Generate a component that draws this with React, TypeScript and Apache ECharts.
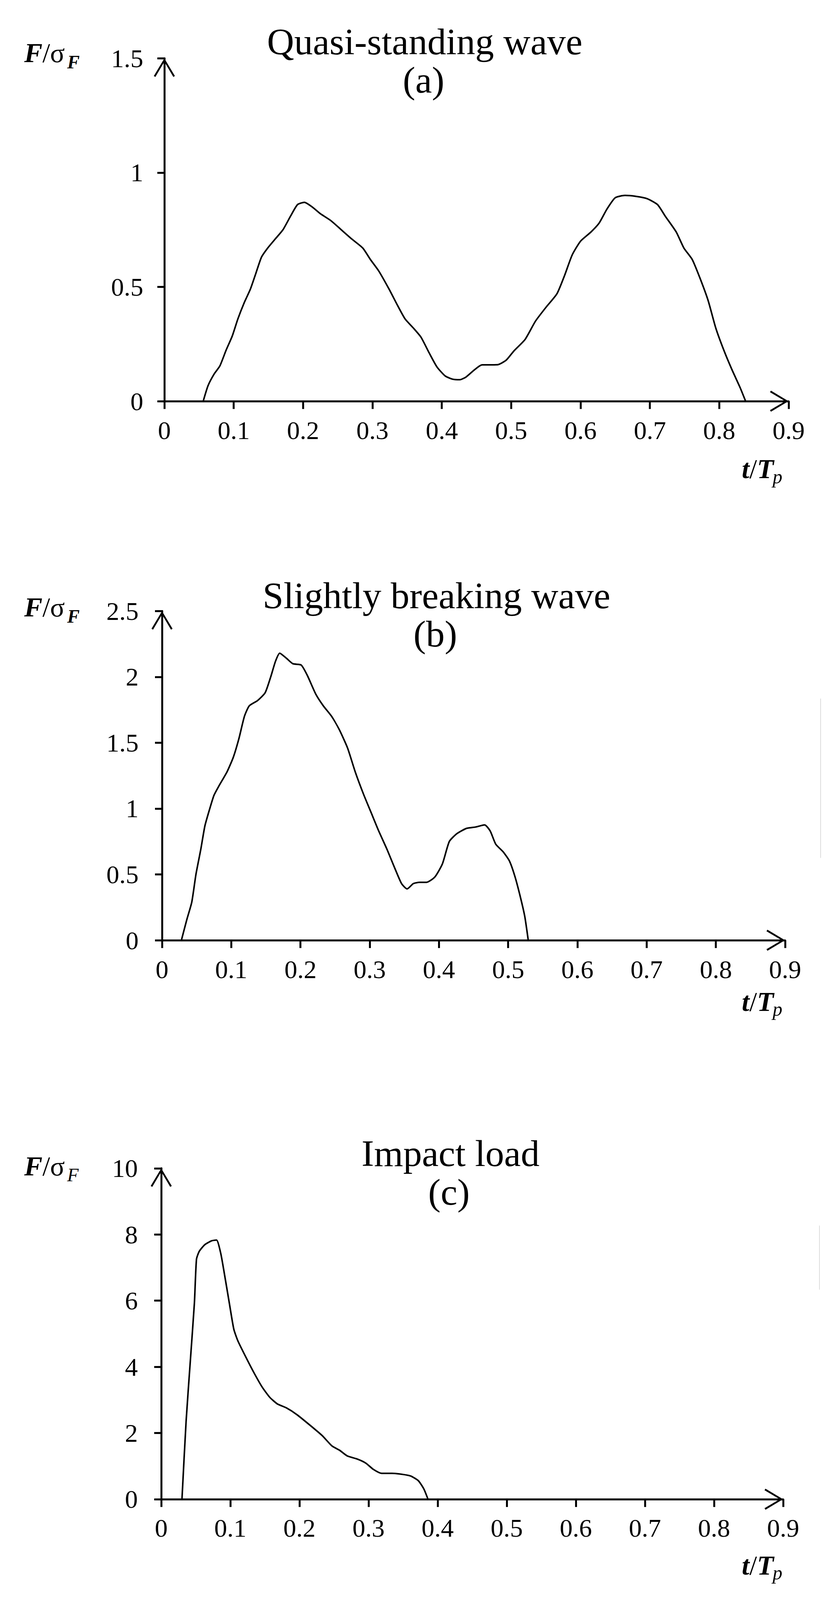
import React, { useEffect, useRef, useState } from 'react';
import * as echarts from 'echarts';

// ---- data ----
const xTickStep = 0.1;
const xMax = 0.9;

// (a) Quasi-standing wave
const tA = [0.056, 0.063, 0.072, 0.080, 0.089, 0.098, 0.106, 0.115, 0.124, 0.132, 0.140, 0.149, 0.160, 0.171, 0.182, 0.192, 0.202, 0.213, 0.225, 0.240, 0.255, 0.270, 0.286, 0.297, 0.309, 0.324, 0.336, 0.347, 0.359, 0.370, 0.382, 0.393, 0.405, 0.416, 0.426, 0.435, 0.447, 0.458, 0.470, 0.481, 0.493, 0.504, 0.520, 0.535, 0.550, 0.566, 0.577, 0.588, 0.600, 0.615, 0.627, 0.638, 0.650, 0.664, 0.680, 0.696, 0.711, 0.722, 0.738, 0.749, 0.761, 0.772, 0.784, 0.795, 0.807, 0.818, 0.830, 0.838];
const fA = [0, 0.068, 0.12, 0.154, 0.223, 0.286, 0.36, 0.43, 0.49, 0.56, 0.63, 0.67, 0.71, 0.75, 0.81, 0.86, 0.87, 0.85, 0.82, 0.79, 0.75, 0.71, 0.67, 0.62, 0.57, 0.49, 0.42, 0.36, 0.32, 0.28, 0.21, 0.15, 0.11, 0.096, 0.094, 0.106, 0.137, 0.159, 0.159, 0.160, 0.18, 0.22, 0.27, 0.35, 0.41, 0.47, 0.55, 0.64, 0.70, 0.74, 0.78, 0.84, 0.89, 0.90, 0.896, 0.886, 0.86, 0.81, 0.74, 0.67, 0.62, 0.54, 0.44, 0.32, 0.22, 0.14, 0.06, 0];

// (b) Slightly breaking wave
const tB = [0.028, 0.036, 0.043, 0.049, 0.056, 0.062, 0.069, 0.075, 0.082, 0.094, 0.103, 0.111, 0.119, 0.126, 0.138, 0.149, 0.157, 0.164, 0.170, 0.180, 0.189, 0.201, 0.210, 0.222, 0.233, 0.245, 0.256, 0.268, 0.279, 0.291, 0.302, 0.313, 0.325, 0.336, 0.346, 0.354, 0.363, 0.372, 0.382, 0.394, 0.405, 0.415, 0.426, 0.440, 0.453, 0.466, 0.474, 0.482, 0.493, 0.502, 0.510, 0.518, 0.524, 0.529];
const fB = [0, 0.16, 0.29, 0.50, 0.69, 0.87, 1.00, 1.10, 1.17, 1.28, 1.39, 1.53, 1.70, 1.78, 1.82, 1.88, 2.00, 2.12, 2.18, 2.14, 2.10, 2.09, 2.01, 1.87, 1.78, 1.70, 1.60, 1.46, 1.28, 1.11, 0.97, 0.83, 0.69, 0.55, 0.43, 0.39, 0.43, 0.44, 0.44, 0.48, 0.58, 0.75, 0.81, 0.85, 0.86, 0.876, 0.83, 0.73, 0.67, 0.60, 0.48, 0.32, 0.18, 0];

// (c) Impact load
const tC = [0.030, 0.036, 0.042, 0.048, 0.051, 0.055, 0.063, 0.073, 0.080, 0.086, 0.091, 0.0985, 0.105, 0.111, 0.124, 0.135, 0.146, 0.157, 0.168, 0.181, 0.196, 0.215, 0.233, 0.247, 0.258, 0.269, 0.284, 0.296, 0.307, 0.319, 0.334, 0.349, 0.361, 0.372, 0.380, 0.386];
const fC = [0, 2.36, 4.15, 5.93, 7.25, 7.49, 7.69, 7.81, 7.83, 7.44, 6.86, 5.93, 5.14, 4.78, 4.23, 3.79, 3.39, 3.08, 2.88, 2.76, 2.56, 2.24, 1.92, 1.61, 1.48, 1.31, 1.21, 1.09, 0.90, 0.78, 0.78, 0.75, 0.70, 0.56, 0.31, 0];

const titles = ['Quasi-standing wave', 'Slightly breaking wave', 'Impact load'];
const panelTags = ['(a)', '(b)', '(c)'];
const yMaxes = [1.5, 2.5, 10];
const ySteps = [0.5, 0.5, 2];

const SERIF = '"Liberation Serif", "Times New Roman", Times, serif';
const ARROW = 'path://M27,0 L54,45 L50,47.5 L27,8.5 L4,47.5 L0,45 Z';
const REF_H = 4666;
const W = 2126;

function viewHeight() {
  const ih = typeof window !== 'undefined' && window.innerHeight ? window.innerHeight : REF_H;
  return Math.min(ih, 4096, REF_H);
}

export default function App() {
  const ref = useRef<HTMLDivElement>(null);
  const [H] = useState<number>(viewHeight());

  useEffect(() => {
    const chart = echarts.init(ref.current as HTMLDivElement, null, { renderer: 'svg' });
    const SY = H / REF_H;

    const gridsRef = [
      { left: 421, top: 170, width: 1599, height: 1000 },
      { left: 415, top: 1782, width: 1596, height: 960 },
      { left: 413, top: 3407, width: 1593, height: 965 },
    ];
    const grids = gridsRef.map((g) => ({ left: g.left, width: g.width, top: g.top * SY, height: g.height * SY }));
    const yLabelMargins = [54, 60, 60];

    const titleLayout = [
      { tx: 1088, ty: 158, px: 1085, py: 270, fy: 182, tpy: 1395 },
      { tx: 1118, ty: 1774, px: 1115, py: 1886, fy: 1798, tpy: 2948 },
      { tx: 1154, ty: 3401, px: 1150, py: 3513, fy: 3428, tpy: 4592 },
    ];

    const axisLineStyle = { color: '#000', width: 5 };
    const tickStyle = { color: '#000', width: 5 };

    // middle of a text whose baseline (in reference pixels) is given
    const mid = (baseline: number, size: number) => baseline * SY - 0.34 * size;

    const text = (
      str: string,
      x: number,
      y: number,
      size: number,
      align: string,
      fontStyle = 'normal',
      fontWeight = 'normal'
    ) => ({
      type: 'text',
      x,
      y,
      silent: true,
      style: {
        text: str,
        fill: '#000',
        fontSize: size,
        fontFamily: SERIF,
        fontStyle,
        fontWeight,
        textAlign: align,
        align,
        textVerticalAlign: 'middle',
        verticalAlign: 'middle',
      },
    });

    const richStyles = {
      b: { fontSize: 70, fontFamily: SERIF, fontStyle: 'italic', fontWeight: 'bold', fill: '#000', color: '#000' },
      r: { fontSize: 70, fontFamily: SERIF, fontStyle: 'normal', fontWeight: 'normal', fill: '#000', color: '#000' },
    };

    const graphics: any[] = [];
    titleLayout.forEach((L, i) => {
      graphics.push(text(titles[i], L.tx, mid(L.ty, 96), 96, 'center'));
      graphics.push(text(panelTags[i], L.px, mid(L.py, 96), 96, 'center'));
      // y-axis name  F/σ_F
      graphics.push({
        type: 'text',
        x: 62,
        y: mid(L.fy, 70),
        silent: true,
        style: {
          text: '{b|F}{r|/σ}',
          fill: '#000',
          fontSize: 70,
          fontFamily: SERIF,
          textAlign: 'left',
          align: 'left',
          textVerticalAlign: 'middle',
          verticalAlign: 'middle',
          rich: richStyles,
        },
      });
      graphics.push(text('F', 172, mid(L.fy, 48) + 15, 48, 'left', 'italic', i === 2 ? 'normal' : 'bold'));
      // x-axis name  t/T_p
      graphics.push({
        type: 'text',
        x: 1900,
        y: mid(L.tpy, 70),
        silent: true,
        style: {
          text: '{b|t}{r|/}{b|T}',
          fill: '#000',
          fontSize: 70,
          fontFamily: SERIF,
          textAlign: 'left',
          align: 'left',
          textVerticalAlign: 'middle',
          verticalAlign: 'middle',
          rich: richStyles,
        },
      });
      graphics.push(text('p', 1979, mid(L.tpy, 50) + 12, 50, 'left', 'italic', 'normal'));
    });
    // faint scan edge marks at the right of panels (b) and (c)
    graphics.push({ type: 'line', silent: true, shape: { x1: 2102, y1: 2037 * SY, x2: 2102, y2: 2502 * SY }, style: { stroke: '#dcdcdc', lineWidth: 2 } });
    graphics.push({ type: 'line', silent: true, shape: { x1: 2099, y1: 3574 * SY, x2: 2099, y2: 3761 * SY }, style: { stroke: '#dcdcdc', lineWidth: 2 } });

    const fmt = (v: number) => String(Math.round(v * 10) / 10);

    const tData = [tA, tB, tC];
    const fData = [fA, fB, fC];

    const option: any = {
      animation: false,
      backgroundColor: '#fff',
      grid: grids.map((g) => ({ ...g, containLabel: false, show: false })),
      xAxis: grids.map((_, i) => ({
        type: 'value',
        gridIndex: i,
        min: 0,
        max: xMax,
        interval: xTickStep,
        axisLine: {
          show: true,
          onZero: false,
          lineStyle: axisLineStyle,
          symbol: ['none', ARROW],
          symbolSize: [54, 48],
          symbolOffset: [0, -24],
        },
        axisTick: { show: true, inside: false, length: 20, lineStyle: tickStyle },
        axisLabel: {
          show: true,
          margin: Math.round(84 * SY - 33),
          fontSize: 66,
          fontFamily: SERIF,
          color: '#000',
          showMinLabel: true,
          showMaxLabel: true,
          formatter: fmt,
        },
        splitLine: { show: false },
      })),
      yAxis: grids.map((_, i) => ({
        type: 'value',
        gridIndex: i,
        min: 0,
        max: yMaxes[i],
        interval: ySteps[i],
        axisLine: {
          show: true,
          onZero: false,
          lineStyle: axisLineStyle,
          symbol: ['none', ARROW],
          symbolSize: [54, 48],
          symbolOffset: [0, -24],
        },
        axisTick: { show: true, inside: false, length: 18, lineStyle: tickStyle },
        axisLabel: {
          show: true,
          margin: yLabelMargins[i],
          fontSize: 66,
          fontFamily: SERIF,
          color: '#000',
          showMinLabel: true,
          showMaxLabel: true,
          formatter: fmt,
        },
        splitLine: { show: false },
      })),
      series: grids.map((_, i) => ({
        type: 'line',
        xAxisIndex: i,
        yAxisIndex: i,
        data: tData[i].map((t, k) => [t, fData[i][k]]),
        symbol: 'none',
        showSymbol: false,
        smooth: 0.2,
        silent: true,
        lineStyle: { color: '#000', width: 4 },
      })),
      graphic: graphics,
    };

    chart.setOption(option);
    return () => {
      chart.dispose();
    };
  }, [H]);

  return (
    <div
      ref={ref}
      style={{ position: 'absolute', left: 0, top: 0, width: W, height: H, background: '#fff' }}
    />
  );
}
